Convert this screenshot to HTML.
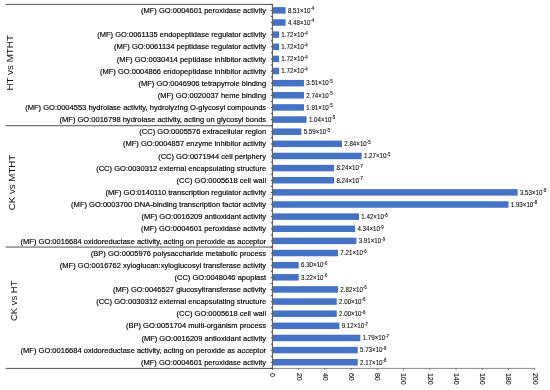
<!DOCTYPE html>
<html><head><meta charset="utf-8"><title>GO enrichment</title>
<style>
html,body{margin:0;padding:0;background:#fff;}
svg{display:block;font-family:"Liberation Sans",Arial,sans-serif;}
.lab{font-size:7.54px;fill:#000;text-anchor:end;stroke:#000;stroke-width:0.16;}
.val{font-size:6.25px;fill:#111;stroke:#111;stroke-width:0.1;}
.sup{font-size:4.4px;}
.ax{font-size:7.3px;fill:#111;stroke:#111;stroke-width:0.1;}
.grp{font-size:9.6px;fill:#111;text-anchor:middle;}
.ln{stroke:#333;stroke-width:0.85;fill:none;}
.bar{fill:#4472c4;}
</style></head><body>
<svg width="550" height="390" viewBox="0 0 550 390">
<rect width="550" height="390" fill="#fff"/>
<path class="ln" d="M5.6 4.4 H272.4"/>
<path class="ln" d="M5.6 125.73 H272.4"/>
<path class="ln" d="M5.6 247.07 H272.4"/>
<path class="ln" d="M5.6 368.4 H272.4"/>
<path class="ln" d="M272.4 4.0 V368.79999999999995"/>
<path d="M272.4 368.4 H535.00" stroke="#555" stroke-width="0.7" fill="none"/>
<path class="ln" d="M270.80 4.40H272.4M270.80 10.47H272.4M270.80 16.53H272.4M270.80 22.60H272.4M270.80 28.67H272.4M270.80 34.73H272.4M270.80 40.80H272.4M270.80 46.87H272.4M270.80 52.93H272.4M270.80 59.00H272.4M270.80 65.07H272.4M270.80 71.13H272.4M270.80 77.20H272.4M270.80 83.27H272.4M270.80 89.33H272.4M270.80 95.40H272.4M270.80 101.47H272.4M270.80 107.53H272.4M270.80 113.60H272.4M270.80 119.67H272.4M270.80 125.73H272.4M270.80 131.80H272.4M270.80 137.87H272.4M270.80 143.93H272.4M270.80 150.00H272.4M270.80 156.07H272.4M270.80 162.13H272.4M270.80 168.20H272.4M270.80 174.27H272.4M270.80 180.33H272.4M270.80 186.40H272.4M270.80 192.47H272.4M270.80 198.53H272.4M270.80 204.60H272.4M270.80 210.67H272.4M270.80 216.73H272.4M270.80 222.80H272.4M270.80 228.87H272.4M270.80 234.93H272.4M270.80 241.00H272.4M270.80 247.07H272.4M270.80 253.13H272.4M270.80 259.20H272.4M270.80 265.27H272.4M270.80 271.33H272.4M270.80 277.40H272.4M270.80 283.47H272.4M270.80 289.53H272.4M270.80 295.60H272.4M270.80 301.67H272.4M270.80 307.73H272.4M270.80 313.80H272.4M270.80 319.87H272.4M270.80 325.93H272.4M270.80 332.00H272.4M270.80 338.07H272.4M270.80 344.13H272.4M270.80 350.20H272.4M270.80 356.27H272.4M270.80 362.33H272.4M270.80 368.40H272.4"/>
<path d="M272.50 368.4v1.6M298.72 368.4v1.6M324.94 368.4v1.6M351.16 368.4v1.6M377.38 368.4v1.6M403.60 368.4v1.6M429.82 368.4v1.6M456.04 368.4v1.6M482.26 368.4v1.6M508.48 368.4v1.6M534.70 368.4v1.6" stroke="#444" stroke-width="0.7" fill="none"/>
<text class="ax" transform="translate(270.30 372.9) rotate(90) scale(0.98 1.06)">0</text>
<text class="ax" transform="translate(296.52 372.9) rotate(90) scale(0.98 1.06)">20</text>
<text class="ax" transform="translate(322.74 372.9) rotate(90) scale(0.98 1.06)">40</text>
<text class="ax" transform="translate(348.96 372.9) rotate(90) scale(0.98 1.06)">60</text>
<text class="ax" transform="translate(375.18 372.9) rotate(90) scale(0.98 1.06)">80</text>
<text class="ax" transform="translate(401.40 372.9) rotate(90) scale(0.98 1.06)">100</text>
<text class="ax" transform="translate(427.62 372.9) rotate(90) scale(0.98 1.06)">120</text>
<text class="ax" transform="translate(453.84 372.9) rotate(90) scale(0.98 1.06)">140</text>
<text class="ax" transform="translate(480.06 372.9) rotate(90) scale(0.98 1.06)">160</text>
<text class="ax" transform="translate(506.28 372.9) rotate(90) scale(0.98 1.06)">180</text>
<text class="ax" transform="translate(532.50 372.9) rotate(90) scale(0.98 1.06)">200</text>
<rect class="bar" x="272.90" y="7.12" width="12.71" height="6.5"/>
<text class="lab" transform="translate(266.1 12.97) scale(1 1.07)">(MF) GO:0004601 peroxidase activity</text>
<text class="val" transform="translate(287.91 12.67) scale(0.99 1.1)">8.51×10<tspan class="sup" dy="-2.2">-4</tspan></text>
<rect class="bar" x="272.90" y="19.25" width="12.71" height="6.5"/>
<text class="val" transform="translate(287.91 24.80) scale(0.99 1.1)">4.48×10<tspan class="sup" dy="-2.2">-4</tspan></text>
<rect class="bar" x="272.90" y="31.38" width="6.15" height="6.5"/>
<text class="lab" transform="translate(266.1 37.23) scale(1 1.07)">(MF) GO:0061135 endopeptidase regulator activity</text>
<text class="val" transform="translate(281.35 36.93) scale(0.99 1.1)">1.72×10<tspan class="sup" dy="-2.2">-4</tspan></text>
<rect class="bar" x="272.90" y="43.52" width="6.15" height="6.5"/>
<text class="lab" transform="translate(266.1 49.37) scale(1 1.07)">(MF) GO:0061134 peptidase regulator activity</text>
<text class="val" transform="translate(281.35 49.07) scale(0.99 1.1)">1.72×10<tspan class="sup" dy="-2.2">-4</tspan></text>
<rect class="bar" x="272.90" y="55.65" width="6.15" height="6.5"/>
<text class="lab" transform="translate(266.1 61.50) scale(1 1.07)">(MF) GO:0030414 peptidase inhibitor activity</text>
<text class="val" transform="translate(281.35 61.20) scale(0.99 1.1)">1.72×10<tspan class="sup" dy="-2.2">-4</tspan></text>
<rect class="bar" x="272.90" y="67.78" width="6.15" height="6.5"/>
<text class="lab" transform="translate(266.1 73.63) scale(1 1.07)">(MF) GO:0004866 endopeptidase inhibitor activity</text>
<text class="val" transform="translate(281.35 73.33) scale(0.99 1.1)">1.72×10<tspan class="sup" dy="-2.2">-4</tspan></text>
<rect class="bar" x="272.90" y="79.92" width="31.06" height="6.5"/>
<text class="lab" transform="translate(266.1 85.77) scale(1 1.07)">(MF) GO:0046906 tetrapyrrole binding</text>
<text class="val" transform="translate(306.26 85.47) scale(0.99 1.1)">3.51×10<tspan class="sup" dy="-2.2">-5</tspan></text>
<rect class="bar" x="272.90" y="92.05" width="31.06" height="6.5"/>
<text class="lab" transform="translate(266.1 97.90) scale(1 1.07)">(MF) GO:0020037 heme binding</text>
<text class="val" transform="translate(306.26 97.60) scale(0.99 1.1)">2.74×10<tspan class="sup" dy="-2.2">-5</tspan></text>
<rect class="bar" x="272.90" y="104.18" width="31.06" height="6.5"/>
<text class="lab" transform="translate(266.1 110.03) scale(1 1.07)">(MF) GO:0004553 hydrolase activity, hydrolyzing O-glycosyl compounds</text>
<text class="val" transform="translate(306.26 109.73) scale(0.99 1.1)">1.91×10<tspan class="sup" dy="-2.2">-5</tspan></text>
<rect class="bar" x="272.90" y="116.32" width="33.69" height="6.5"/>
<text class="lab" transform="translate(266.1 122.17) scale(1 1.07)">(MF) GO:0016798 hydrolase activity, acting on glycosyl bonds</text>
<text class="val" transform="translate(308.89 121.87) scale(0.99 1.1)">1.04×10<tspan class="sup" dy="-2.2">-5</tspan></text>
<rect class="bar" x="272.90" y="128.45" width="28.44" height="6.5"/>
<text class="lab" transform="translate(266.1 134.30) scale(1 1.07)">(CC) GO:0005576 extracellular region</text>
<text class="val" transform="translate(303.64 134.00) scale(0.99 1.1)">5.59×10<tspan class="sup" dy="-2.2">-5</tspan></text>
<rect class="bar" x="272.90" y="140.58" width="69.08" height="6.5"/>
<text class="lab" transform="translate(266.1 146.43) scale(1 1.07)">(MF) GO:0004857 enzyme inhibitor activity</text>
<text class="val" transform="translate(344.28 146.13) scale(0.99 1.1)">2.84×10<tspan class="sup" dy="-2.2">-5</tspan></text>
<rect class="bar" x="272.90" y="152.72" width="88.75" height="6.5"/>
<text class="lab" transform="translate(266.1 158.57) scale(1 1.07)">(CC) GO:0071944 cell periphery</text>
<text class="val" transform="translate(363.95 158.27) scale(0.99 1.1)">1.27×10<tspan class="sup" dy="-2.2">-5</tspan></text>
<rect class="bar" x="272.90" y="164.85" width="61.22" height="6.5"/>
<text class="lab" transform="translate(266.1 170.70) scale(1 1.07)">(CC) GO:0030312 external encapsulating structure</text>
<text class="val" transform="translate(336.42 170.40) scale(0.99 1.1)">8.24×10<tspan class="sup" dy="-2.2">-7</tspan></text>
<rect class="bar" x="272.90" y="176.98" width="61.22" height="6.5"/>
<text class="lab" transform="translate(266.1 182.83) scale(1 1.07)">(CC) GO:0005618 cell wall</text>
<text class="val" transform="translate(336.42 182.53) scale(0.99 1.1)">8.24×10<tspan class="sup" dy="-2.2">-7</tspan></text>
<rect class="bar" x="272.90" y="189.12" width="244.76" height="6.5"/>
<text class="lab" transform="translate(266.1 194.97) scale(1 1.07)">(MF) GO:0140110 transcription regulator activity</text>
<text class="val" transform="translate(519.96 194.67) scale(0.99 1.1)">3.53×10<tspan class="sup" dy="-2.2">-8</tspan></text>
<rect class="bar" x="272.90" y="201.25" width="235.58" height="6.5"/>
<text class="lab" transform="translate(266.1 207.10) scale(1 1.07)">(MF) GO:0003700 DNA-binding transcription factor activity</text>
<text class="val" transform="translate(510.78 206.80) scale(0.99 1.1)">1.93×10<tspan class="sup" dy="-2.2">-8</tspan></text>
<rect class="bar" x="272.90" y="213.38" width="86.13" height="6.5"/>
<text class="lab" transform="translate(266.1 219.23) scale(1 1.07)">(MF) GO:0016209 antioxidant activity</text>
<text class="val" transform="translate(361.33 218.93) scale(0.99 1.1)">1.42×10<tspan class="sup" dy="-2.2">-8</tspan></text>
<rect class="bar" x="272.90" y="225.52" width="82.19" height="6.5"/>
<text class="lab" transform="translate(266.1 231.37) scale(1 1.07)">(MF) GO:0004601 peroxidase activity</text>
<text class="val" transform="translate(357.39 231.07) scale(0.99 1.1)">4.34×10<tspan class="sup" dy="-2.2">-9</tspan></text>
<rect class="bar" x="272.90" y="237.65" width="83.50" height="6.5"/>
<text class="lab" transform="translate(266.1 243.50) scale(1 1.07)">(MF) GO:0016684 oxidoreductase activity, acting on peroxide as acceptor</text>
<text class="val" transform="translate(358.70 243.20) scale(0.99 1.1)">3.91×10<tspan class="sup" dy="-2.2">-9</tspan></text>
<rect class="bar" x="272.90" y="249.78" width="65.15" height="6.5"/>
<text class="lab" transform="translate(266.1 255.63) scale(1 1.07)">(BP) GO:0005976 polysaccharide metabolic process</text>
<text class="val" transform="translate(340.35 255.33) scale(0.99 1.1)">7.21×10<tspan class="sup" dy="-2.2">-6</tspan></text>
<rect class="bar" x="272.90" y="261.92" width="25.82" height="6.5"/>
<text class="lab" transform="translate(266.1 267.77) scale(1 1.07)">(MF) GO:0016762 xyloglucan:xyloglucosyl transferase activity</text>
<text class="val" transform="translate(301.02 267.47) scale(0.99 1.1)">6.30×10<tspan class="sup" dy="-2.2">-6</tspan></text>
<rect class="bar" x="272.90" y="274.05" width="25.82" height="6.5"/>
<text class="lab" transform="translate(266.1 279.90) scale(1 1.07)">(CC) GO:0048046 apoplast</text>
<text class="val" transform="translate(301.02 279.60) scale(0.99 1.1)">3.22×10<tspan class="sup" dy="-2.2">-6</tspan></text>
<rect class="bar" x="272.90" y="286.18" width="65.15" height="6.5"/>
<text class="lab" transform="translate(266.1 292.03) scale(1 1.07)">(MF) GO:0046527 glucosyltransferase activity</text>
<text class="val" transform="translate(340.35 291.73) scale(0.99 1.1)">2.82×10<tspan class="sup" dy="-2.2">-6</tspan></text>
<rect class="bar" x="272.90" y="298.32" width="63.84" height="6.5"/>
<text class="lab" transform="translate(266.1 304.17) scale(1 1.07)">(CC) GO:0030312 external encapsulating structure</text>
<text class="val" transform="translate(339.04 303.87) scale(0.99 1.1)">2.00×10<tspan class="sup" dy="-2.2">-6</tspan></text>
<rect class="bar" x="272.90" y="310.45" width="63.84" height="6.5"/>
<text class="lab" transform="translate(266.1 316.30) scale(1 1.07)">(CC) GO:0005618 cell wall</text>
<text class="val" transform="translate(339.04 316.00) scale(0.99 1.1)">2.00×10<tspan class="sup" dy="-2.2">-6</tspan></text>
<rect class="bar" x="272.90" y="322.58" width="66.46" height="6.5"/>
<text class="lab" transform="translate(266.1 328.43) scale(1 1.07)">(BP) GO:0051704 multi-organism process</text>
<text class="val" transform="translate(341.66 328.13) scale(0.99 1.1)">9.12×10<tspan class="sup" dy="-2.2">-7</tspan></text>
<rect class="bar" x="272.90" y="334.72" width="87.44" height="6.5"/>
<text class="lab" transform="translate(266.1 340.57) scale(1 1.07)">(MF) GO:0016209 antioxidant activity</text>
<text class="val" transform="translate(362.64 340.27) scale(0.99 1.1)">1.79×10<tspan class="sup" dy="-2.2">-7</tspan></text>
<rect class="bar" x="272.90" y="346.85" width="84.81" height="6.5"/>
<text class="lab" transform="translate(266.1 352.70) scale(1 1.07)">(MF) GO:0016684 oxidoreductase activity, acting on peroxide as acceptor</text>
<text class="val" transform="translate(360.01 352.40) scale(0.99 1.1)">5.73×10<tspan class="sup" dy="-2.2">-8</tspan></text>
<rect class="bar" x="272.90" y="358.98" width="84.81" height="6.5"/>
<text class="lab" transform="translate(266.1 364.83) scale(1 1.07)">(MF) GO:0004601 peroxidase activity</text>
<text class="val" transform="translate(360.01 364.53) scale(0.99 1.1)">2.17×10<tspan class="sup" dy="-2.2">-8</tspan></text>
<text class="grp" transform="translate(13.4 62.8) rotate(-90)" textLength="55.5" lengthAdjust="spacingAndGlyphs">HT vs MTHT</text>
<text class="grp" transform="translate(15.4 182.5) rotate(-90)" textLength="55.5" lengthAdjust="spacingAndGlyphs">CK vs MTHT</text>
<text class="grp" transform="translate(17.1 300.8) rotate(-90)" textLength="40.5" lengthAdjust="spacingAndGlyphs">CK vs HT</text>
</svg></body></html>
